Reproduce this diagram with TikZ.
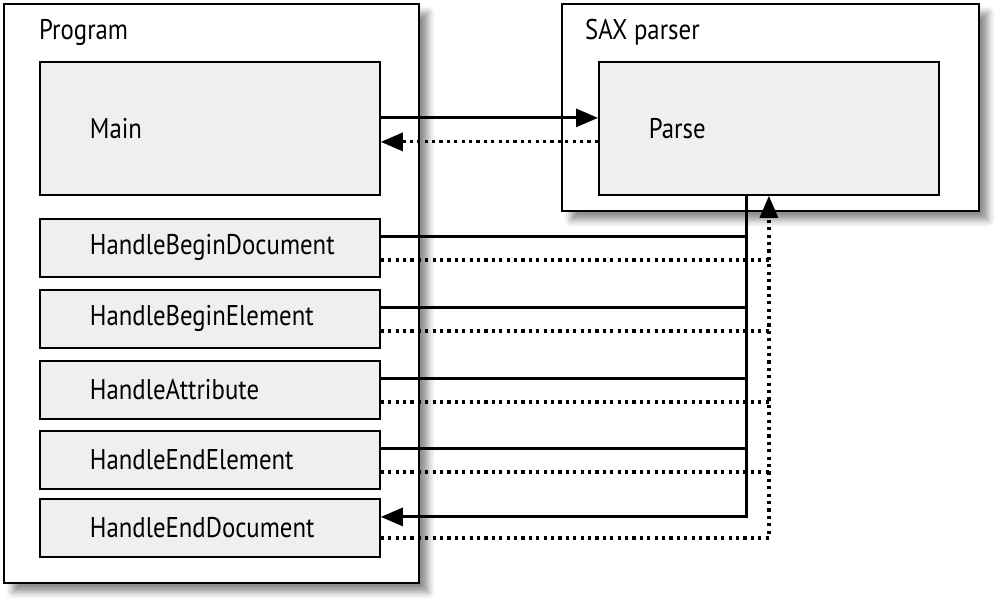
\documentclass[tikz,border=0pt]{standalone}
\usepackage{fontspec}
\setmainfont[FakeStretch=0.87]{PT Sans}
\usetikzlibrary{arrows.meta,shadows.blur}

\definecolor{boxgray}{RGB}{239, 239, 239}

\begin{document}
\begin{tikzpicture}[x=1pt, y=-1pt,
    font=\fontsize{28.5}{30}\selectfont,
    outerbox/.style={draw, line width=1.8pt, fill=white, anchor=north west,
        blur shadow={shadow xshift=9pt, shadow yshift=-9pt, shadow blur radius=7pt, shadow opacity=45}},
    innerbox/.style={draw, line width=1.8pt, fill=boxgray, anchor=north west,
        minimum width=340pt, text width=240pt, inner xsep=50pt, align=left},
    call/.style={line width=3pt, -{Triangle[length=22pt, width=18pt]}},
    callline/.style={line width=3pt},
    back/.style={line width=3.2pt, dash pattern=on 3.2pt off 4.2pt, -{Triangle[length=22pt, width=18pt]}},
    backline/.style={line width=3.2pt, dash pattern=on 3.2pt off 4.2pt}]

    \useasboundingbox (0,0) rectangle (1000,604);

    % --- outer frames ---
    \node[outerbox, minimum width=415pt, minimum height=579pt] (prog) at (3,3) {};
    \node[outerbox, minimum width=417pt, minimum height=207pt] (sax) at (561,3) {};
    \node[anchor=base west, inner sep=0pt] (progtitle) at (39,40) {Program};
    \node[anchor=base west, inner sep=0pt] (saxtitle) at (585,40) {SAX parser};

    % --- main and parse ---
    \node[innerbox, minimum height=133pt] (main) at (39,61) {Main};
    \node[innerbox, minimum height=133pt] (parse) at (598,61) {Parse};

    % --- handlers ---
    \foreach \name/\txt/\y in {hbd/HandleBeginDocument/218, hbe/HandleBeginElement/289,
        ha/HandleAttribute/360, hee/HandleEndElement/430, hed/HandleEndDocument/498}
        \node[innerbox, minimum height=58pt] (\name) at (39,\y) {\txt};

    % --- main <-> parse ---
    \draw[call] ([yshift=10.5pt]main.east) -- ([yshift=10.5pt]parse.west);
    \draw[back] ([yshift=-13.5pt]parse.west) -- ([yshift=-13.5pt]main.east);

    % --- callbacks ---
    \coordinate (bus) at ([xshift=-22pt]parse.south);
    \draw[call] (bus) |- ([yshift=11pt]hed.east);
    \foreach \h in {hbd, hbe, ha, hee} {
        \coordinate (\h-in) at ([yshift=11pt]\h.east);
        \draw[callline] (\h-in) -- (bus |- \h-in);
    }

    % --- returns ---
    \draw[back] ([yshift=-10pt]hed.east) -| (parse.south);
    \foreach \h in {hbd, hbe, ha, hee} {
        \coordinate (\h-out) at ([yshift=-12pt]\h.east);
        \draw[backline] (\h-out) -- (parse.south |- \h-out);
    }

\end{tikzpicture}
\end{document}
